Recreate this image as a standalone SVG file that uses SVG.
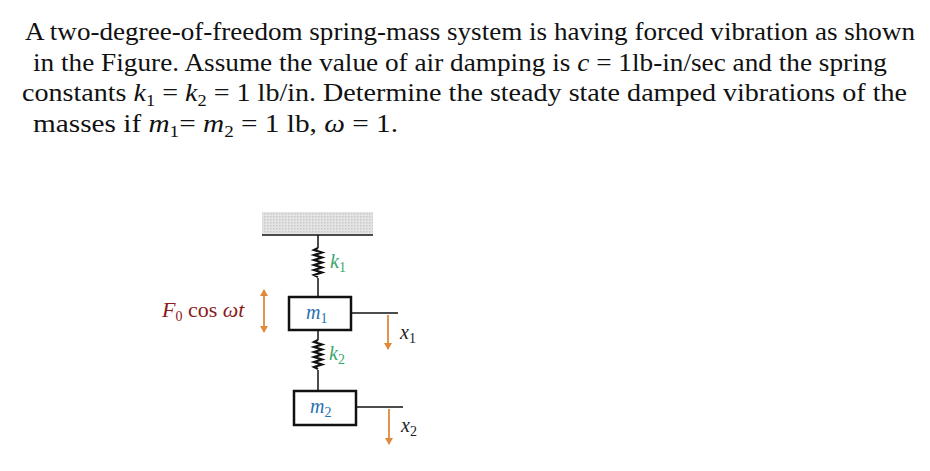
<svg xmlns="http://www.w3.org/2000/svg" width="930" height="471" viewBox="0 0 930 471">
<defs>
<pattern id="hatch" width="3" height="3" patternUnits="userSpaceOnUse"><rect width="3" height="3" fill="#e4e4e4"/><rect width="1.5" height="1.5" fill="#c8c8c8"/></pattern>
<marker id="ah" markerWidth="8" markerHeight="8" refX="6" refY="4" orient="auto" markerUnits="userSpaceOnUse"><path d="M0,0 L7,4 L0,8 Z" fill="#e08a3c"/></marker>
</defs>
<style>
.t{font-family:"Liberation Serif",serif;font-size:26px;fill:#111}
.i{font-style:italic}
.s{font-size:17px}
.ln{stroke:#111;stroke-width:1.5;fill:none}
.box{stroke:#111;stroke-width:2.5;fill:#fff}
.arr{stroke:#e08a3c;stroke-width:1.8;fill:none}
.sp{stroke:#111;stroke-width:2.2;fill:none}
.lab{font-family:"Liberation Serif",serif;font-style:italic;font-size:20px}
.ls{font-size:14px;font-style:normal}
</style>
<rect width="930" height="471" fill="#fff"/>
<g id="text">
<text class="t" x="25" y="40" textLength="890" lengthAdjust="spacingAndGlyphs">A two-degree-of-freedom spring-mass system is having forced vibration as shown</text>
<text class="t" x="33" y="71" textLength="854" lengthAdjust="spacingAndGlyphs">in the Figure. Assume the value of air damping is <tspan class="i">c</tspan> = 1lb-in/sec and the spring</text>
<text class="t" x="22" y="101" textLength="885" lengthAdjust="spacingAndGlyphs">constants <tspan class="i">k</tspan><tspan class="s" dy="5">1</tspan><tspan dy="-5"> = </tspan><tspan class="i">k</tspan><tspan class="s" dy="5">2</tspan><tspan dy="-5"> = 1 lb/in. Determine the steady state damped vibrations of the</tspan></text>
<text class="t" x="33" y="132" textLength="365" lengthAdjust="spacingAndGlyphs">masses if  <tspan class="i">m</tspan><tspan class="s" dy="5">1</tspan><tspan dy="-5">= </tspan><tspan class="i">m</tspan><tspan class="s" dy="5">2</tspan><tspan dy="-5"> = 1 lb, </tspan><tspan class="i">ω</tspan> = 1.</text>
</g>
<g id="ceiling">
<rect x="262" y="212" width="111" height="22" fill="url(#hatch)"/>
<line class="ln" x1="262" y1="235" x2="373" y2="235"/>
</g>
<g id="connectors">
<path class="ln" d="M318,235 V248"/>
<path class="sp" d="M318,248 l-4,2 l8,2.5 l-8,2.5 l8,2.5 l-8,2.5 l8,2.5 l-8,2.5 l8,2.5 l-8,2.5 l8,2.5 l-8,2.5 l4,2"/>
<path class="ln" d="M318,278 V297"/>
<path class="ln" d="M318,330 V340"/>
<path class="sp" d="M318,340 l-4,2 l8,2.5 l-8,2.5 l8,2.5 l-8,2.5 l8,2.5 l-8,2.5 l8,2.5 l-8,2.5 l8,2.5 l-8,2.5 l4,2"/>
<path class="ln" d="M318,370 V390"/>
<line class="ln" x1="351" y1="313" x2="398" y2="313"/>
<line class="ln" x1="356" y1="407" x2="403" y2="407"/>
<line class="arr" x1="388" y1="315" x2="388" y2="349" marker-end="url(#ah)"/>
<line class="arr" x1="389" y1="409" x2="389" y2="444" marker-end="url(#ah)"/>
<line class="arr" x1="264" y1="311" x2="264" y2="290" marker-end="url(#ah)"/>
<line class="arr" x1="264" y1="311" x2="264" y2="332" marker-end="url(#ah)"/>
</g>
<g id="m1">
<rect class="box" x="289" y="297" width="62" height="33"/>
<text class="lab" x="306" y="319" fill="#2a6fb0">m<tspan class="ls" dy="4">1</tspan></text>
</g>
<g id="m2">
<rect class="box" x="294" y="391" width="62" height="34"/>
<text class="lab" x="310" y="413" fill="#2a6fb0">m<tspan class="ls" dy="4">2</tspan></text>
</g>
<g id="labels">
<text class="lab" x="330" y="268" fill="#3aa86a">k<tspan class="ls" dy="4">1</tspan></text>
<text class="lab" x="329" y="360" fill="#3aa86a">k<tspan class="ls" dy="4">2</tspan></text>
<text class="lab" x="400" y="339" fill="#222">x<tspan class="ls" dy="4">1</tspan></text>
<text class="lab" x="401" y="432" fill="#222">x<tspan class="ls" dy="4">2</tspan></text>
<text x="162" y="317" font-family="Liberation Serif,serif" font-size="22" fill="#8b1a1a"><tspan font-style="italic">F</tspan><tspan font-size="14" dy="4">0</tspan><tspan dy="-4"> cos </tspan><tspan font-style="italic">ωt</tspan></text>
</g>
</svg>
